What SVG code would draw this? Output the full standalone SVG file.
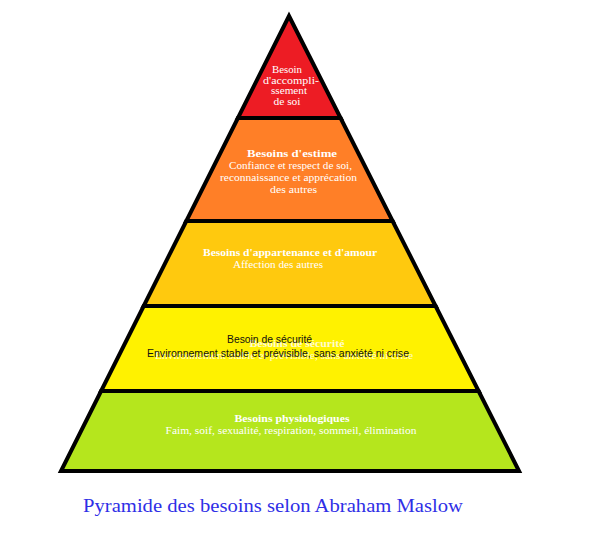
<svg xmlns="http://www.w3.org/2000/svg" width="600" height="540" viewBox="0 0 600 540">
<style>
.layer{stroke:#000;stroke-width:4;stroke-linejoin:miter}
.w{fill:#fff;font-family:"Liberation Serif","DejaVu Serif",serif;font-size:10px;text-anchor:middle}
.b{font-weight:bold}
.k{fill:#111;font-family:"Liberation Sans","Open Sans",sans-serif;font-size:10.5px;text-anchor:middle}
.title{fill:#2f2fe6;font-family:"Liberation Serif","DejaVu Serif",serif;font-size:19px}
</style>
<rect width="600" height="540" fill="#fff"/>
<g id="physiologiques">
<polygon class="layer" fill="#b5e61d" points="101.1,391 478.6,391 519,471 61,471"/>
<text class="w b" x="292" y="422" textLength="115" lengthAdjust="spacingAndGlyphs">Besoins physiologiques</text>
<text class="w" x="291" y="434" textLength="251" lengthAdjust="spacingAndGlyphs">Faim, soif, sexualité, respiration, sommeil, élimination</text>
</g>
<g id="securite">
<polygon class="layer" fill="#fff200" points="143.7,306 435.6,306 478.6,391 101.1,391"/>
<text class="w b" x="297" y="347" textLength="95" lengthAdjust="spacingAndGlyphs" opacity="0.8">Besoins de sécurité</text>
<text class="w" x="284" y="359" textLength="258" lengthAdjust="spacingAndGlyphs" opacity="0.8">Environnement stable et prévisible, sans anxiété ni crise</text>
<text class="k" x="269.5" y="343" textLength="85" lengthAdjust="spacingAndGlyphs">Besoin de sécurité</text>
<text class="k" x="278" y="357" textLength="262" lengthAdjust="spacingAndGlyphs">Environnement stable et prévisible, sans anxiété ni crise</text>
</g>
<g id="appartenance">
<polygon class="layer" fill="#ffc90e" points="186.3,221 392.6,221 435.6,306 143.7,306"/>
<text class="w b" x="290" y="256" textLength="174" lengthAdjust="spacingAndGlyphs">Besoins d'appartenance et d'amour</text>
<text class="w" x="278" y="268" textLength="90" lengthAdjust="spacingAndGlyphs">Affection des autres</text>
</g>
<g id="estime">
<polygon class="layer" fill="#ff7f27" points="237.9,118 340.6,118 392.6,221 186.3,221"/>
<text class="w b" x="292" y="157" textLength="90" lengthAdjust="spacingAndGlyphs">Besoins d'estime</text>
<text class="w" x="290.5" y="169" textLength="123" lengthAdjust="spacingAndGlyphs">Confiance et respect de soi,</text>
<text class="w" x="288.5" y="181" textLength="137" lengthAdjust="spacingAndGlyphs">reconnaissance et apprécation</text>
<text class="w" x="293.5" y="193" textLength="47" lengthAdjust="spacingAndGlyphs">des autres</text>
</g>
<g id="accomplissement">
<polygon class="layer" fill="#ed1c24" points="289,16 340.6,118 237.9,118"/>
<text class="w" x="287" y="73" textLength="30" lengthAdjust="spacingAndGlyphs">Besoin</text>
<text class="w" x="291" y="84" textLength="56" lengthAdjust="spacingAndGlyphs">d'accompli-</text>
<text class="w" x="289" y="94" textLength="36" lengthAdjust="spacingAndGlyphs">ssement</text>
<text class="w" x="287" y="105" textLength="27" lengthAdjust="spacingAndGlyphs">de soi</text>
</g>
<g id="titre">
<text class="title" x="83" y="512" textLength="380" lengthAdjust="spacingAndGlyphs">Pyramide des besoins selon Abraham Maslow</text>
</g>
</svg>
